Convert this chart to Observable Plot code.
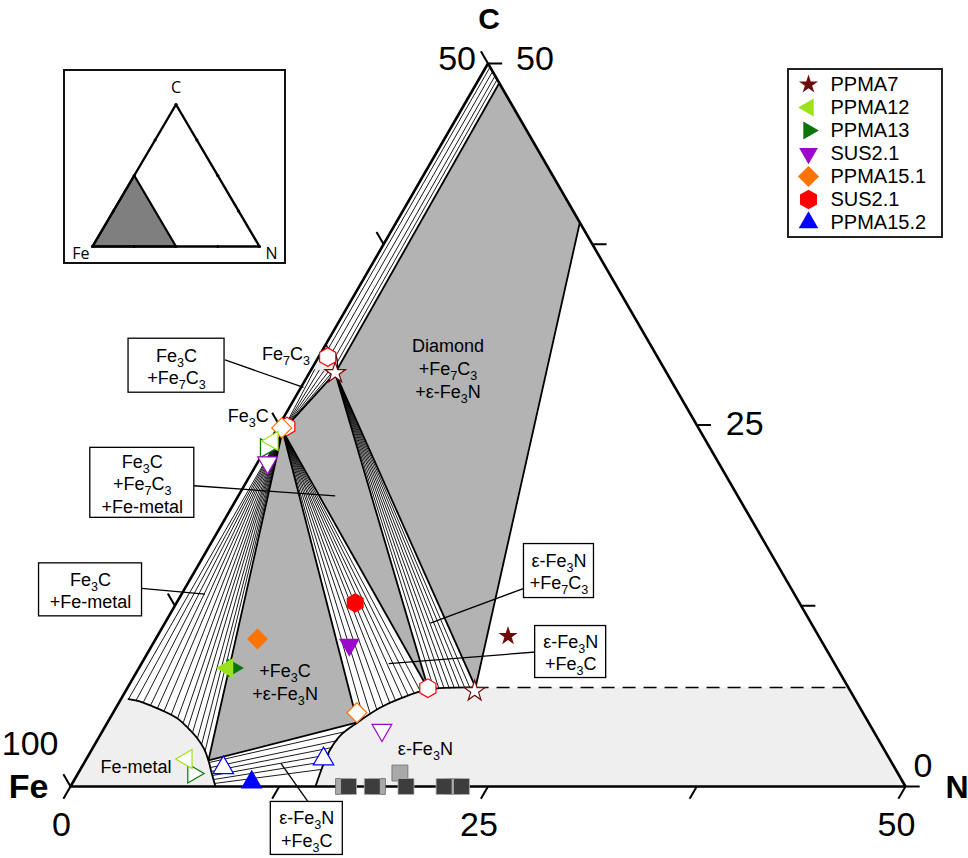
<!DOCTYPE html>
<html><head><meta charset="utf-8">
<script src="https://cdn.jsdelivr.net/npm/d3@7"></script>
<script src="https://cdn.jsdelivr.net/npm/@observablehq/plot@0.6"></script>
<style>
body{margin:0;background:#fff;}
#wrap{position:relative;width:968px;height:858px;font-family:"Liberation Sans",Arial,sans-serif;}
#inset{position:absolute;left:63px;top:69px;width:223px;height:195px;border:2px solid #111;box-sizing:border-box;background:#fff;}
#legend{position:absolute;left:787px;top:68px;width:156px;height:170px;border:2px solid #222;box-sizing:border-box;background:#fff;}
svg{display:block;}
</style></head><body><div id="wrap"><div id="main"></div><div id="inset"></div><div id="legend"></div></div>
<script>
// ---------- DATA (compositions in at.% : N, C) ----------
const sampleNames = ["PPMA7","PPMA12","PPMA13","SUS2.1","PPMA15.1","SUS2.1","PPMA15.2"];
const sampleColors = ["#6e0b0b","#9be21c","#0a760a","#9b08cc","#ff7300","#ff0000","#0000ff"];
const sampleSymbols = ["star","triLeft","triRight","triDown","diamond","hexagon","triUp"];
const bulkN = [21.0, 5.3, 5.6, 11.8, 6.1, 10.7, 10.7];
const bulkC = [10.4, 8.2, 8.2, 9.8, 10.2, 12.7, 0.3];
// analysed phase compositions (open symbols)
const phaseSample = [0,0, 1,1, 2,2, 3,3, 5,5,5, 4,4, 6,6];
const phaseN = [1.55,20.9, 0.15,6.0, 0.0,6.9, 0.6,16.7, 0.55,0.5,18.0, 0.25,14.6, 8.5,14.2];
const phaseC = [28.6,6.6, 23.9,1.9, 23.4,0.9, 22.4,3.9, 29.7,24.9,6.8, 24.8,5.1, 1.3,1.9];
// grey squares on the Fe-N join
const squareN = [16.35, 18.38, 19.26, 22.9, 16.65, 18.07, 20.09, 22.37, 23.41];
const squareC = [0, 0, 0.93, 0, 0, 0, 0, 0, 0];
const squareTone = ["light","light","light","light","dark","dark","dark","dark","dark"];

// phase-diagram geometry
const fe3cPt = [0.4, 24.6];
const fe7c3Pt = [1.55, 28.6];
const metalCorner = [7.36, 1.8];
const epsCorner1 = [14.97, 4.43];
const epsCorner2 = [18.08, 6.71];
const epsCorner3 = [20.83, 6.85];
const diaTop = [1.35, 48.65];
const diaRight = [11.0, 39.0];
const epsRightEdge = [43.15, 6.85];
const metalDomeN = [0, 0.45, 0.92, 1.45, 1.99, 3.0, 4.06, 5.0, 5.94, 6.7, 7.36, 7.96, 8.68];
const metalDomeC = [6.1, 6.05, 5.95, 5.8, 5.6, 5.2, 4.7, 4.05, 3.32, 2.6, 1.8, 0.97, 0];
const epsDomeN = [14.67, 14.28, 14.4, 14.97, 15.83, 16.72, 18.08, 20.83];
const epsDomeC = [0, 2.37, 3.53, 4.43, 5.46, 6.09, 6.71, 6.85];
const lensN = [0, 0.21, 0.9, 1.43, 1.55, 0];
const lensC = [30.6, 30.36, 29.9, 29.11, 28.6, 28.63];
// tie lines
const metalFanN = [0.45,0.95,1.45,1.99,2.5,3.0,3.55,4.06,4.55,5.0,5.45,5.94,6.4,6.85];
const metalFanC = [6.03,5.94,5.80,5.60,5.40,5.18,4.95,4.70,4.40,4.05,3.70,3.32,2.90,2.40];
const epsFe3cN = [15.2,15.45,15.7,15.95,16.25,16.5,16.8,17.1,17.4,17.7];
const epsFe3cC = [4.71,5.01,5.30,5.54,5.76,5.93,6.13,6.26,6.40,6.54];
const epsFe7c3N = [18.4,18.7,19.0,19.3,19.6,19.9,20.2,20.5];
const epsFe7c3C = [6.73,6.74,6.76,6.77,6.79,6.80,6.82,6.83];
const fe3cFe7c3N = [0.2,0.5,0.8,1.1,1.35];
const fe3cFe7c3C = [28.85,28.8,28.75,28.7,28.65];
const stripTopN = [0.25,0.55,0.85,1.1];
const stripTopC = [49.7,49.4,49.1,48.85];
const stripBotN = [0.3,0.65,1.0,1.3];
const stripBotC = [30.3,30.1,29.8,29.35];
const bottomFanN1 = [7.49,7.72,7.92,8.12,8.32,8.52];
const bottomFanC1 = [1.66,1.31,1.04,0.76,0.48,0.21];
const bottomFanN2 = [14.57,14.40,14.34,14.40,14.41,14.44];
const bottomFanC2 = [3.80,3.18,2.70,2.21,1.73,1.18];

// labels
const boxLabels = ["Fe_3C\n+Fe_7C_3", "Fe_3C\n+Fe_7C_3\n+Fe-metal", "Fe_3C\n+Fe-metal", "ε-Fe_3N\n+Fe_3C", "ε-Fe_3N\n+Fe_7C_3", "ε-Fe_3N\n+Fe_3C"];
const boxN = [-8.2, -6.2, -5.6, 15.6, 21.8, 25.3];
const boxC = [29.1, 21.0, 13.6, -2.9, 14.9, 9.3];
const leaderN1 = [-5.5, -3.0, -2.6, 14.8, 20.3, 23.2];
const leaderC1 = [29.5, 20.8, 13.7, -1.1, 13.7, 9.3];
const leaderN2 = [0.15, 5.8, 1.4, 11.8, 15.9, 14.8];
const leaderC2 = [27.6, 20.1, 13.3, 1.6, 11.3, 8.5];
const fieldLabels = ["Diamond\n+Fe_7C_3\n+ε-Fe_3N", "Fe_7C_3", "Fe_3C", "+Fe_3C\n+ε-Fe_3N", "Fe-metal", "ε-Fe_3N"];
const fieldN = [8.1, -2.1, -2.2, 9.2, 3.2, 19.9];
const fieldC = [29.0, 30.0, 25.7, 7.3, 1.45, 2.7];
const tickValues = [0, 12.5, 25, 37.5, 50];
const bottomTickLabels = ["0", "25", "50"];
const bottomTickN = [0, 25, 50];
const rightTickLabels = ["50", "25", "0"];
const rightTickC = [50, 25, 0];
const leftTickLabels = ["100", "50"];
const leftTickC = [0, 50];

// ---------- STYLE ----------
const W = 968, H = 858, mL = 70, mR = 63, mT = 63, mB = 72;
const pxPerUnit = (W - mL - mR) / 50;
const boxW = [96, 104, 103, 72, 70, 71];
const boxH = [54, 70, 53, 53, 54, 52];
const FONT = '"Liberation Sans", Arial, Helvetica, sans-serif';

// ---------- helpers ----------
const S = Math.sqrt(3) / 2;
const T = ([n, c]) => ({x: n + c / 2, y: c * S});
const zip = (ns, cs) => ns.map((n, i) => [n, cs[i]]);
const seg = (a, b) => ({x1: a[0] + a[1] / 2, y1: a[1] * S, x2: b[0] + b[1] / 2, y2: b[1] * S});
const tri = ang => ({draw(ctx, size) {
  const r = Math.sqrt(size / Math.PI);
  for (let k = 0; k < 3; k++) {
    const a = ang + k * 2 * Math.PI / 3, px = r * Math.cos(a), py = r * Math.sin(a);
    k ? ctx.lineTo(px, py) : ctx.moveTo(px, py);
  }
  ctx.closePath();
}});
const symbolOf = {star: "star", hexagon: "hexagon", diamond: "diamond2",
  triUp: tri(-Math.PI / 2), triDown: tri(Math.PI / 2), triLeft: tri(Math.PI), triRight: tri(0)};
const radiusOf = {star: 6.0, hexagon: 8.5, diamond: 9.5, triUp: 12.5, triDown: 12, triLeft: 11.5, triRight: 11.5};

// ---------- geometry ----------
const metalDome = zip(metalDomeN, metalDomeC);
const epsDome = zip(epsDomeN, epsDomeC);
const metalField = [[0, 0], ...metalDome];
const epsField = [...epsDome, epsRightEdge, [50, 0]];
const lens = zip(lensN, lensC);
const grayA = [diaTop, diaRight, epsCorner3, fe7c3Pt];
const grayB = [fe3cPt, epsCorner1, metalCorner];
const grayC = [fe3cPt, fe7c3Pt, epsCorner2];

const ties = [
  ...zip(stripTopN, stripTopC).map((p, i) => seg(p, [stripBotN[i], stripBotC[i]])),
  ...zip(fe3cFe7c3N, fe3cFe7c3C).map(p => seg(fe3cPt, p)),
  ...zip(metalFanN, metalFanC).map(p => seg(fe3cPt, p)),
  ...zip(epsFe3cN, epsFe3cC).map(p => seg(fe3cPt, p)),
  ...zip(epsFe7c3N, epsFe7c3C).map(p => seg(fe7c3Pt, p)),
  ...zip(bottomFanN1, bottomFanC1).map((p, i) => seg(p, [bottomFanN2[i], bottomFanC2[i]]))
];
const bounds = [
  seg(fe3cPt, metalCorner), seg(fe3cPt, epsCorner1), seg(fe3cPt, epsCorner2), seg(fe3cPt, fe7c3Pt),
  seg(fe7c3Pt, epsCorner2), seg(fe7c3Pt, epsCorner3), seg(epsCorner3, diaRight), seg(fe7c3Pt, diaTop),
  seg(metalCorner, epsCorner1)
];
const ticks = [
  ...tickValues.map(v => seg([v, 0], [v, -0.85])),
  ...tickValues.map(v => seg([0, v], [-0.85, v + 0.85])),
  ...tickValues.map(v => seg([50 - v, v], [50 - v + 0.85, v]))
];

const polyMark = (pts, fill) => Plot.line(pts.map(T), {x: "x", y: "y", fill, stroke: "none", curve: "linear-closed"});
const curveMark = (pts, opts) => Plot.line(pts.map(T), {x: "x", y: "y", stroke: "#000", strokeWidth: 1.8, ...opts});
const label = (t, p, opts) => Plot.text([{t, ...T(p)}], {x: "x", y: "y", text: "t", fill: "#000", fontSize: 34, ...opts});

const marks = [
  polyMark(metalField, "#efefef"),
  polyMark(epsField, "#efefef"),
  polyMark(grayA, "#b3b3b3"),
  polyMark(grayB, "#b3b3b3"),
  polyMark(grayC, "#b3b3b3"),
  polyMark(lens, "#ececec"),
  Plot.link(ties, {x1: "x1", y1: "y1", x2: "x2", y2: "y2", stroke: "#000", strokeWidth: 0.9}),
  Plot.link(bounds, {x1: "x1", y1: "y1", x2: "x2", y2: "y2", stroke: "#000", strokeWidth: 1.8}),
  curveMark(metalDome.slice(1), {curve: "catmull-rom"}),
  curveMark(epsDome, {curve: "catmull-rom"}),
  curveMark(lens.slice(0, 5), {curve: "catmull-rom", strokeWidth: 1.3}),
  curveMark([epsCorner3, epsRightEdge], {strokeDasharray: "13,8", strokeWidth: 1.6, strokeLinecap: "butt"}),
  curveMark([[0, 0], [50, 0], [0, 50], [0, 0]], {strokeWidth: 2.6, strokeLinejoin: "miter"}),
  Plot.link(ticks, {x1: "x1", y1: "y1", x2: "x2", y2: "y2", stroke: "#000", strokeWidth: 2}),
  // leaders
  Plot.link(boxLabels.map((_, i) => seg([leaderN1[i], leaderC1[i]], [leaderN2[i], leaderC2[i]])),
    {x1: "x1", y1: "y1", x2: "x2", y2: "y2", stroke: "#000", strokeWidth: 1.3}),
  // label boxes
  Plot.rect(boxLabels.map((_, i) => {const p = T([boxN[i], boxC[i]]); return {
      x1: p.x - boxW[i] / 2 / pxPerUnit, x2: p.x + boxW[i] / 2 / pxPerUnit,
      y1: p.y - boxH[i] / 2 / pxPerUnit, y2: p.y + boxH[i] / 2 / pxPerUnit};}),
    {x1: "x1", x2: "x2", y1: "y1", y2: "y2", fill: "#fff", stroke: "#000", strokeWidth: 1.3}),
  Plot.text(boxLabels.map((t, i) => ({t, ...T([boxN[i], boxC[i]])})),
    {x: "x", y: "y", text: "t", fontSize: 18, lineHeight: 1.25, fill: "#000"}),
  Plot.text(fieldLabels.map((t, i) => ({t, ...T([fieldN[i], fieldC[i]])})),
    {x: "x", y: "y", text: "t", fontSize: 18, lineHeight: 1.28, fill: "#000"}),
  // axis labels
  Plot.text(bottomTickLabels.map((t, i) => ({t, ...T([bottomTickN[i], 0])})),
    {x: "x", y: "y", text: "t", fontSize: 34, dx: -9, dy: 39, fill: "#000"}),
  label(rightTickLabels[0], [50 - rightTickC[0], rightTickC[0]], {textAnchor: "start", dx: 28, dy: -4}),
  label(rightTickLabels[1], [50 - rightTickC[1], rightTickC[1]], {textAnchor: "start", dx: 29, dy: -1}),
  label(rightTickLabels[2], [50 - rightTickC[2], rightTickC[2]], {textAnchor: "start", dx: 8, dy: -20}),
  label(leftTickLabels[0], [0, leftTickC[0]], {textAnchor: "end", dx: -12, dy: -42}),
  label(leftTickLabels[1], [0, leftTickC[1]], {textAnchor: "end", dx: -12, dy: -4}),
  label("Fe", [0, 0], {fontWeight: "bold", textAnchor: "end", dx: -22, dy: 1}),
  label("N", [50, 0], {fontWeight: "bold", fontSize: 32, textAnchor: "start", dx: 40, dy: 1}),
  label("C", [0, 50], {fontWeight: "bold", fontSize: 30, dx: 1, dy: -44}),
  // grey squares
  ...["light", "dark"].map(tone => Plot.dot(zip(squareN, squareC).filter((_, i) => squareTone[i] === tone).map(T),
    {x: "x", y: "y", symbol: "square", r: 9, fill: tone === "light" ? "#a9a9a9" : "#3d3d3d",
     stroke: tone === "light" ? "#6a6a6a" : "#b0b0b0", strokeWidth: 0.8}))
];
// open symbols
[0, 5, 4, 2, 1, 3, 6].forEach(s => {
  const pts = phaseSample.map((k, i) => k === s ? T([phaseN[i], phaseC[i]]) : null).filter(Boolean);
  const sym = sampleSymbols[s];
  marks.push(Plot.dot(pts, {x: "x", y: "y", symbol: symbolOf[sym], r: radiusOf[sym] * (sym === "star" ? 1.08 : 0.95),
    fill: "#fff", stroke: sampleColors[s], strokeWidth: 1.2}));
});
// filled symbols
[0, 2, 1, 3, 4, 5, 6].forEach(s => {
  const sym = sampleSymbols[s];
  marks.push(Plot.dot([T([bulkN[s], bulkC[s]])], {x: "x", y: "y", symbol: symbolOf[sym], r: radiusOf[sym],
    fill: sampleColors[s], stroke: "none"}));
});

const main = Plot.plot({
  width: W, height: H, marginLeft: mL, marginRight: mR, marginTop: mT, marginBottom: mB,
  x: {domain: [0, 50], axis: null}, y: {domain: [0, 50 * S], axis: null},
  style: {fontFamily: FONT, background: "#fff", overflow: "visible"},
  marks
});

// subscripts: "_3" -> subscript tspan
function subscripts(svg) {
  const ns = "http://www.w3.org/2000/svg";
  svg.querySelectorAll("text").forEach(t => {
    const ts = t.querySelectorAll("tspan");
    const targets = ts.length ? [...ts] : [t];
    targets.forEach(el => {
      const s = el.textContent;
      if (!/_\d/.test(s)) return;
      el.textContent = "";
      s.split(/(_\d)/).forEach(part => {
        if (!part) return;
        if (/^_\d$/.test(part)) {
          const sub = document.createElementNS(ns, "tspan");
          sub.setAttribute("baseline-shift", "-5");
          sub.setAttribute("font-size", "70%");
          sub.textContent = part.slice(1);
          el.appendChild(sub);
        } else el.appendChild(document.createTextNode(part));
      });
    });
  });
}
subscripts(main);
document.getElementById("main").appendChild(main);

// ---------- inset ----------
const insetCorners = [[0, 0], [100, 0], [0, 100], [0, 0]];
const insetShade = [[0, 0], [50, 0], [0, 50]];
const insetTicks = [25, 50, 75];
const insetLabels = ["Fe", "N", "C"];
const inset = Plot.plot({
  width: 219, height: 191, marginLeft: 27, marginRight: 25, marginTop: 33, marginBottom: 16,
  x: {domain: [0, 100], axis: null}, y: {domain: [0, 100 * S], axis: null},
  style: {fontFamily: '"Open Sans", "DejaVu Sans", sans-serif', background: "#fff", overflow: "visible"},
  marks: [
    Plot.line(insetShade.map(T), {x: "x", y: "y", fill: "#7f7f7f", stroke: "#000", strokeWidth: 2.2, curve: "linear-closed"}),
    Plot.line(insetCorners.map(T), {x: "x", y: "y", stroke: "#000", strokeWidth: 2.4}),
    Plot.dot([...insetTicks.map(v => T([v, 0])), ...insetTicks.map(v => T([0, v])), ...insetTicks.map(v => T([100 - v, v])),
              T([0, 0]), T([100, 0]), T([0, 100])], {x: "x", y: "y", r: 1.6, fill: "#000"}),
    Plot.text([T([0, 0])], {x: "x", y: "y", text: () => insetLabels[0], fontSize: 16, textAnchor: "end", dx: -3, dy: 7, fill: "#000"}),
    Plot.text([T([100, 0])], {x: "x", y: "y", text: () => insetLabels[1], fontSize: 16, textAnchor: "start", dx: 6, dy: 7, fill: "#000"}),
    Plot.text([T([0, 100])], {x: "x", y: "y", text: () => insetLabels[2], fontSize: 16, dy: -17, fill: "#000"})
  ]
});
document.getElementById("inset").appendChild(inset);

// ---------- legend ----------
const rows = d3.range(sampleNames.length);
const legendMarks = [];
rows.forEach(i => {
  const sym = sampleSymbols[i];
  legendMarks.push(Plot.dot([i], {y: d => d, frameAnchor: "left", dx: 19, symbol: symbolOf[sym],
    r: radiusOf[sym] * (sym.startsWith("tri") ? 0.9 : 1), fill: sampleColors[i], stroke: "none"}));
});
legendMarks.push(Plot.text(rows, {y: d => d, frameAnchor: "left", dx: 41, text: i => sampleNames[i], fontSize: 20, textAnchor: "start", fill: "#000"}));
const legend = Plot.plot({
  width: 152, height: 166, margin: 0,
  y: {type: "point", domain: rows, range: [12, 154], padding: 0, axis: null},
  style: {fontFamily: FONT, background: "#fff", overflow: "visible"},
  marks: legendMarks
});
document.getElementById("legend").appendChild(legend);
</script></body></html>
